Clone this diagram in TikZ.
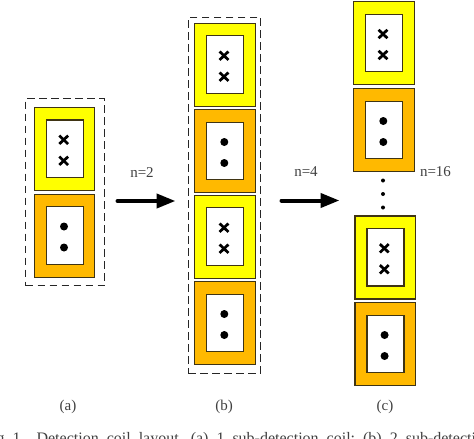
\documentclass[tikz,border=0pt]{standalone}
\usepackage{fontspec}
\setmainfont{Liberation Serif}
\usetikzlibrary{arrows.meta}
\definecolor{coilyellow}{HTML}{FFFF00}
\definecolor{coilorange}{HTML}{FFB900}
\definecolor{coiledge}{HTML}{3F3413}
\tikzset{
  x=1pt,y=-1pt,
  coilouter/.style={draw=coiledge,line width=1.2pt,rectangle,inner sep=0pt,minimum width=60.5pt,minimum height=83pt,anchor=north west},
  coilinner/.style={draw=coiledge,fill=white,line width=1.2pt,rectangle,inner sep=0pt,minimum width=37pt,minimum height=57.5pt,anchor=north west},
  crossmark/.style={line width=2.7pt,black},
  dotmark/.style={circle,fill=black,inner sep=0pt,minimum size=8pt},
  smalldot/.style={circle,fill=black,inner sep=0pt,minimum size=4pt},
  groupbox/.style={draw=black!85,dash pattern=on 7.5pt off 4.5pt,line width=1.2pt,rectangle,inner sep=0pt,anchor=north west},
  bigarrow/.style={line width=4pt,-{Triangle[length=19pt,width=14pt]},line cap=round,black},
  lbl/.style={font=\fontsize{15}{17}\selectfont,text=black!75,inner sep=0pt},
  capt/.style={font=\fontsize{16}{18}\selectfont,text=black!75,inner sep=0pt,anchor=base west}
}
% #1 name, #2 left, #3 top
\newcommand{\crosscoil}[3]{%
  \node[coilouter,fill=coilyellow] (#1) at (#2,#3) {};
  \node[coilinner] (#1i) at (#2+12,#3+12.5) {};
  \foreach \dy in {33,54}{
    \draw[crossmark] (#2+30-4.4,#3+\dy-4.2) -- (#2+30+4.4,#3+\dy+4.2);
    \draw[crossmark] (#2+30-4.4,#3+\dy+4.2) -- (#2+30+4.4,#3+\dy-4.2);
  }
}
\newcommand{\dotcoil}[3]{%
  \node[coilouter,fill=coilorange] (#1) at (#2,#3) {};
  \node[coilinner] (#1i) at (#2+12,#3+12.5) {};
  \node[dotmark] (#1d1) at (#2+30.3,#3+33) {};
  \node[dotmark] (#1d2) at (#2+30.3,#3+54) {};
}
\begin{document}
\begin{tikzpicture}
\useasboundingbox (0,0) rectangle (474,439);
\fill[white] (0,0) rectangle (474,439);
% (a)
\node[groupbox,minimum width=79pt,minimum height=187pt] (ga) at (25,98) {};
\crosscoil{a1}{33.7}{106.8}
\dotcoil{a2}{33.7}{193.5}
% (b)
\node[groupbox,minimum width=72.5pt,minimum height=356pt] (gb) at (187.7,16.7) {};
\crosscoil{b1}{194}{22.7}
\dotcoil{b2}{194}{109}
\crosscoil{b3}{194}{194.7}
\dotcoil{b4}{194}{281}
% (c)
\crosscoil{c1}{353}{1}
\dotcoil{c2}{353}{88}
\node[smalldot] (d1) at (383,180.5) {};
\node[smalldot] (d2) at (383,194) {};
\node[smalldot] (d3) at (383,207.5) {};
\crosscoil{c3}{354.3}{215.3}
\dotcoil{c4}{354.3}{302}
% arrows
\coordinate (s1) at (117.5,201);
\coordinate (e1) at (175.5,201);
\coordinate (s2) at (281.5,200.5);
\coordinate (e2) at (339.5,200.5);
\draw[bigarrow] (s1) -- (e1);
\draw[bigarrow] (s2) -- (e2);
% labels
\node[lbl] (n2) at (142,173) {n=2};
\node[lbl] (n4) at (306,172) {n=4};
\node[lbl] (n16) at (435.5,172) {n=16};
\node[lbl] (la) at (68,407) {(a)};
\node[lbl] (lb) at (224,407) {(b)};
\node[lbl] (lc) at (385,407) {(c)};
\begin{scope}
\clip (0,0) rectangle (474,439);
\node[capt] (cap) at (-17,443.5) {Fig.\ 1.\ \ \ Detection\ \ coil\ \ layout.\ \ (a)\ \ 1\ \ sub-detection\ \ coil;\ \ (b)\ \ 2\ \ sub-detection\ \ coils;};
\end{scope}
\end{tikzpicture}
\end{document}
